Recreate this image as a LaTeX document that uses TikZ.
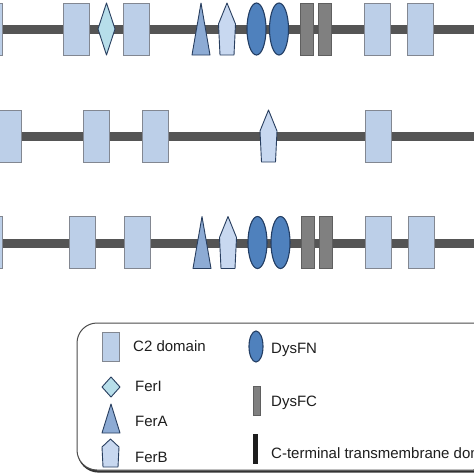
\documentclass[tikz,border=0pt]{standalone}
\usepackage{fontspec}
\setmainfont{Liberation Sans}
\definecolor{c2fill}{RGB}{188,207,232}
\definecolor{c2line}{RGB}{130,135,145}
\definecolor{ferifill}{RGB}{183,222,234}
\definecolor{ferafill}{RGB}{141,171,212}
\definecolor{ferbfill}{RGB}{200,216,240}
\definecolor{darkblue}{RGB}{40,62,95}
\definecolor{fnfill}{RGB}{79,129,189}
\definecolor{fnline}{RGB}{35,62,100}
\definecolor{fcfill}{RGB}{128,128,128}
\definecolor{fcline}{RGB}{95,95,95}
\definecolor{bar}{RGB}{85,85,85}
\definecolor{txt}{RGB}{30,30,30}
\tikzset{
  x=1pt, y=-1pt,
  c2s/.style={fill=c2fill, draw=c2line, line width=0.9pt},
  feris/.style={fill=ferifill, draw=darkblue, line width=0.9pt, line join=round},
  feras/.style={fill=ferafill, draw=darkblue, line width=0.9pt, line join=round},
  ferbs/.style={fill=ferbfill, draw=darkblue, line width=0.9pt, line join=round},
  fns/.style={fill=fnfill, draw=fnline, line width=1.1pt},
  fcs/.style={fill=fcfill, draw=fcline, line width=0.9pt},
  tms/.style={fill=txt, draw=none},
  protline/.style={draw=bar, line width=9pt},
  lbl/.style={font=\fontsize{15}{18}\selectfont, text=txt, anchor=west, inner sep=0pt},
  c2/.pic={\draw[c2s] (-13,-26) rectangle (13,26);},
  feri/.pic={\draw[feris] (0,-26) -- (8.5,0) -- (0,26) -- (-8.5,0) -- cycle;},
  fera/.pic={\draw[feras] (0,-26) -- (9,26) -- (-9,26) -- cycle;},
  ferb/.pic={\draw[ferbs] (0,-26) -- (8.5,-5) -- (7,26) -- (-7,26) -- (-8.5,-5) -- cycle;},
  dysfn/.pic={\draw[fns] (0,0) ellipse [x radius=9.5, y radius=26];},
  dysfc/.pic={\draw[fcs] (-6.5,-26) rectangle (6.5,26);}
}
\begin{document}
\begin{tikzpicture}
\useasboundingbox (0,0) rectangle (474,474);
\clip (0,0) rectangle (474,474);
\fill[white] (0,0) rectangle (474,474);
% row 1
\coordinate (r1a) at (-5,29.5);
\coordinate (r1b) at (480,29.5);
\draw[protline] (r1a) -- (r1b);
\pic (a1) at (-11,29) {c2};
\pic (a2) at (76,29) {c2};
\pic (a3) at (106.5,29) {feri};
\pic (a4) at (136,29) {c2};
\pic (a5) at (201,29) {fera};
\pic (a6) at (227,29) {ferb};
\pic (a7) at (256.5,29) {dysfn};
\pic (a8) at (279,29) {dysfn};
\pic (a9) at (306.5,29) {dysfc};
\pic (a10) at (324.5,29) {dysfc};
\pic (a11) at (377.5,29) {c2};
\pic (a12) at (420,29) {c2};
% row 2
\coordinate (r2a) at (-5,136.5);
\coordinate (r2b) at (480,136.5);
\draw[protline] (r2a) -- (r2b);
\pic (b1) at (8,136) {c2};
\pic (b2) at (96,136) {c2};
\pic (b3) at (155.5,136) {c2};
\pic (b4) at (268.5,136) {ferb};
\pic (b5) at (378.5,136) {c2};
% row 3
\coordinate (r3a) at (-5,243.5);
\coordinate (r3b) at (480,243.5);
\draw[protline] (r3a) -- (r3b);
\pic (c1) at (-11,242.5) {c2};
\pic (c2) at (82.5,242.5) {c2};
\pic (c3) at (137,242.5) {c2};
\pic (c4) at (202,242.5) {fera};
\pic (c5) at (228,242.5) {ferb};
\pic (c6) at (257.5,242.5) {dysfn};
\pic (c7) at (280.5,242.5) {dysfn};
\pic (c8) at (307.5,242.5) {dysfc};
\pic (c9) at (325.5,242.5) {dysfc};
\pic (c10) at (378.5,242.5) {c2};
\pic (c11) at (421,242.5) {c2};
% legend frame
\draw[black!80, line width=2.2pt, rounded corners=20pt] (78.5,324.5) rectangle (495,471.5);
\draw[black!70, line width=1pt, rounded corners=20pt, fill=white] (77,323) rectangle (493,470);
% legend symbols
\draw[c2s] (102,332) rectangle (119,361);
\draw[feris] (111,377) -- (120,387) -- (111,397) -- (102,387) -- cycle;
\draw[feras] (111,404) -- (120,433) -- (102,433) -- cycle;
\draw[ferbs] (110.5,439) -- (119,447) -- (118,467) -- (103,467) -- (102,447) -- cycle;
\draw[fns] (256,346.5) ellipse [x radius=7, y radius=15.5];
\draw[fcs] (253,386) rectangle (260,415);
\fill[tms] (253,434) rectangle (258,464);
% legend labels
\node[lbl] (l1) at (133,346) {C2 domain};
\node[lbl] (l2) at (135,386) {FerI};
\node[lbl] (l3) at (135,421) {FerA};
\node[lbl] (l4) at (135,457) {FerB};
\node[lbl] (l5) at (271,350) {DysFN};
\node[lbl] (l6) at (271,403) {DysFC};
\node[lbl] (l7) at (271,453) {C-terminal transmembrane domain};
\end{tikzpicture}
\end{document}
